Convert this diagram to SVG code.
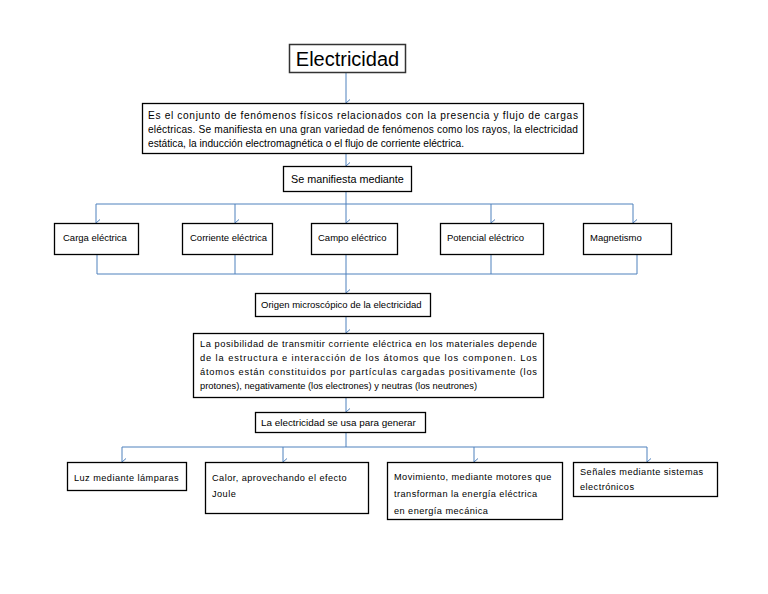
<svg xmlns="http://www.w3.org/2000/svg" width="768" height="594" viewBox="0 0 768 594">
<defs>
<marker id="ah" markerWidth="10" markerHeight="10" refX="5" refY="7" orient="auto" markerUnits="userSpaceOnUse" viewBox="0 0 10 10">
<path d="M1.5,3 L5,7 L8.5,3" fill="none" stroke="#4f81bd" stroke-width="1"/>
</marker>
</defs>
<style>
.box{fill:#fff;stroke:#000;stroke-width:1.3}
.t{font-family:"Liberation Sans",Arial,sans-serif;fill:#000}
.c{fill:none;stroke:#4f81bd;stroke-width:1}
.a{fill:none;stroke:#4f81bd;stroke-width:1;marker-end:url(#ah)}
.d{font-size:10.2px}
.p{font-size:9.3px}
.sp{font-size:9.2px;letter-spacing:0.45px}
.r{font-size:9.5px}
</style>
<rect width="768" height="594" fill="#fff"/>
<g id="connectors">
<path class="a" d="M346,72 V103"/>
<path class="a" d="M346,154 V166"/>
<path class="c" d="M346,192 V204 M96,204 H633"/>
<path class="a" d="M96,204 V223"/>
<path class="a" d="M235,204 V223"/>
<path class="a" d="M346,204 V223"/>
<path class="a" d="M491,204 V223"/>
<path class="a" d="M633,204 V223"/>
<path class="c" d="M97,255 V274 H637 M235,255 V274 M346,255 V274 M491,255 V274 M637,255 V274"/>
<path class="a" d="M346,274 V293"/>
<path class="a" d="M346,316 V333"/>
<path class="a" d="M346,397 V412"/>
<path class="c" d="M346,432 V447 M122,447 H647"/>
<path class="a" d="M122,447 V462"/>
<path class="a" d="M283,447 V462"/>
<path class="a" d="M474,447 V462"/>
<path class="a" d="M647,447 V462"/>
</g>
<g id="title">
<rect x="289.5" y="44.5" width="116" height="28" fill="#fff" stroke="#333" stroke-width="1.5"/>
<text class="t" x="347.5" y="65.5" font-size="20" text-anchor="middle">Electricidad</text>
</g>
<g id="definicion">
<rect class="box" x="142.5" y="103.5" width="441" height="50"/>
<text class="t d" x="148" y="119" textLength="430" lengthAdjust="spacing">Es el conjunto de fenómenos físicos relacionados con la presencia y flujo de cargas</text>
<text class="t d" x="148" y="133" textLength="430" lengthAdjust="spacing">eléctricas. Se manifiesta en una gran variedad de fenómenos como los rayos, la electricidad</text>
<text class="t d" x="148" y="147">estática, la inducción electromagnética o el flujo de corriente eléctrica.</text>
</g>
<g id="manifiesta">
<rect class="box" x="283.5" y="166.5" width="128" height="25"/>
<text class="t" x="291" y="182.5" font-size="10.8">Se manifiesta mediante</text>
</g>
<g id="carga">
<rect class="box" x="54.5" y="223.5" width="84" height="31"/>
<text class="t r" x="63" y="240.5">Carga eléctrica</text>
</g>
<g id="corriente">
<rect class="box" x="182.5" y="223.5" width="90" height="31"/>
<text class="t r" x="190" y="240.5">Corriente eléctrica</text>
</g>
<g id="campo">
<rect class="box" x="311.5" y="223.5" width="86" height="31"/>
<text class="t r" x="318" y="240.5">Campo eléctrico</text>
</g>
<g id="potencial">
<rect class="box" x="440.5" y="223.5" width="103" height="31"/>
<text class="t r" x="447" y="240.5">Potencial eléctrico</text>
</g>
<g id="magnetismo">
<rect class="box" x="583.5" y="223.5" width="88" height="31"/>
<text class="t r" x="590" y="240.5">Magnetismo</text>
</g>
<g id="origen">
<rect class="box" x="255.5" y="293.5" width="175" height="23"/>
<text class="t r" x="261" y="307.5">Origen microscópico de la electricidad</text>
</g>
<g id="posibilidad">
<rect class="box" x="193.5" y="333.5" width="350" height="64"/>
<text class="t p" x="200" y="346.5" textLength="337" lengthAdjust="spacing">La posibilidad de transmitir corriente eléctrica en los materiales depende</text>
<text class="t p" x="200" y="360.5" textLength="337" lengthAdjust="spacing">de la estructura e interacción de los átomos que los componen. Los</text>
<text class="t p" x="200" y="374.5" textLength="337" lengthAdjust="spacing">átomos están constituidos por partículas cargadas positivamente (los</text>
<text class="t p" x="200" y="388.5">protones), negativamente (los electrones) y neutras (los neutrones)</text>
</g>
<g id="usa">
<rect class="box" x="255.5" y="412.5" width="170" height="20"/>
<text class="t" x="261" y="425.5" font-size="9.9">La electricidad se usa para generar</text>
</g>
<g id="luz">
<rect class="box" x="67.5" y="462.5" width="119" height="28"/>
<text class="t sp" x="74" y="481">Luz mediante lámparas</text>
</g>
<g id="calor">
<rect class="box" x="205.5" y="462.5" width="163" height="51"/>
<text class="t sp" x="212" y="481">Calor, aprovechando el efecto</text>
<text class="t sp" x="212" y="497">Joule</text>
</g>
<g id="movimiento">
<rect class="box" x="387.5" y="462.5" width="175" height="57"/>
<text class="t sp" x="394" y="480">Movimiento, mediante motores que</text>
<text class="t sp" x="394" y="497">transforman la energía eléctrica</text>
<text class="t sp" x="394" y="514">en energía mecánica</text>
</g>
<g id="senales">
<rect class="box" x="573.5" y="462.5" width="144" height="34"/>
<text class="t sp" x="580" y="475">Señales mediante sistemas</text>
<text class="t sp" x="580" y="490">electrónicos</text>
</g>
</svg>
